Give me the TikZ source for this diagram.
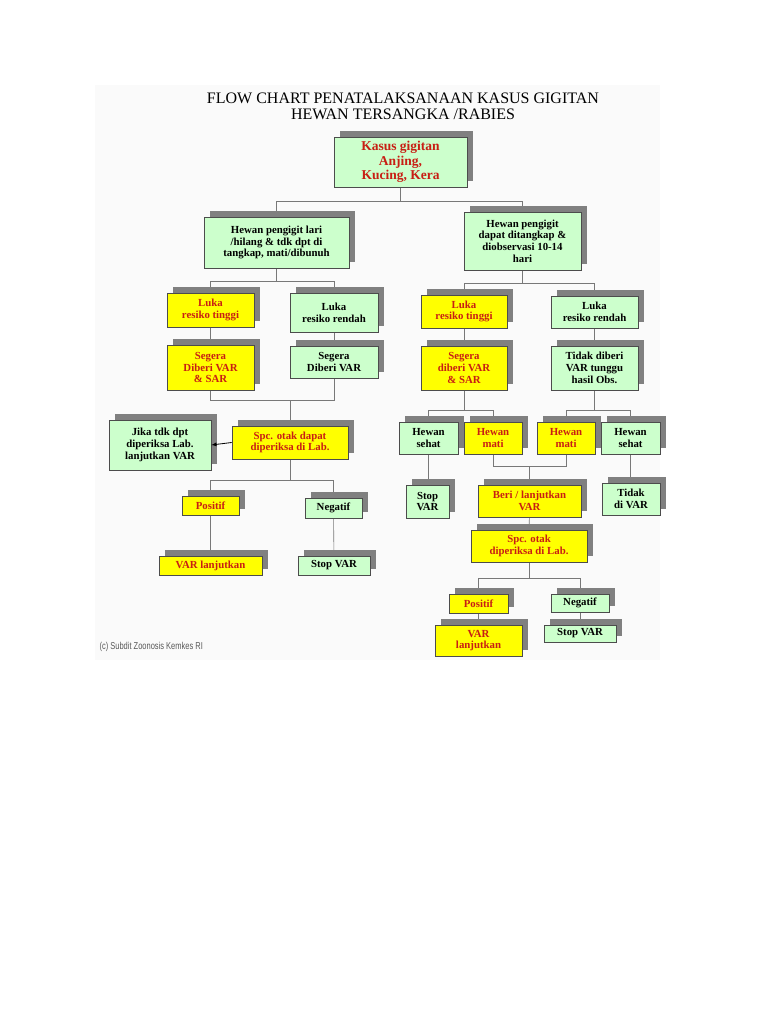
\documentclass[tikz,border=0pt]{standalone}
\usepackage{fontspec}
\setmainfont{Liberation Serif}
\newfontfamily\capfont[FakeStretch=0.75]{Liberation Sans}
\usetikzlibrary{shadows,backgrounds}
\definecolor{bgreen}{RGB}{204,255,204}
\definecolor{byellow}{RGB}{255,255,0}
\definecolor{bred}{RGB}{200,30,20}
\definecolor{lgray}{RGB}{120,120,120}
\tikzset{
 box/.style={draw=black!70, line width=0.6pt, inner sep=1pt, align=center,
   font=\fontsize{10.8}{11.7}\selectfont\bfseries,
   general shadow={fill=black!50, shadow xshift=6pt, shadow yshift=6pt}},
 gbox/.style={box, fill=bgreen},
 ybox/.style={box, fill=byellow, text=bred},
 ln/.style={draw=lgray, line width=0.6pt},
}
\newcommand{\bx}[7]{\node[#1, minimum width=#5pt-#4pt, minimum height=#7pt-#6pt] (#2) at ({(#4+#5)/2},{(#6+#7)/2}) {#3};}
\begin{document}
\begin{tikzpicture}[x=1pt,y=-1pt]
\useasboundingbox (0,0) rectangle (768,1024);
\node[font=\fontsize{16}{16}\selectfont, align=center] (title) at (403,106) {FLOW CHART PENATALAKSANAAN KASUS GIGITAN\\HEWAN TERSANGKA /RABIES};
\bx{gbox,text=bred,font=\fontsize{13.5}{14.5}\selectfont\bfseries}{kasus}{Kasus gigitan\\Anjing,\\Kucing, Kera}{334}{467}{137}{187}
\bx{gbox}{lari}{Hewan pengigit lari\\/hilang \& tdk dpt di\\tangkap, mati/dibunuh}{204}{349}{217}{268}
\bx{gbox}{dapat}{Hewan pengigit\\dapat ditangkap \&\\diobservasi 10-14\\hari}{464}{581}{212}{270}
\bx{ybox}{lt1}{Luka\\resiko tinggi}{167}{254}{293}{327}
\bx{gbox}{lr1}{Luka\\resiko rendah}{290}{378}{293}{332}
\bx{ybox}{sg1}{Segera\\Diberi VAR\\\& SAR}{167}{254}{345}{390}
\bx{gbox}{sd1}{Segera\\Diberi VAR}{290}{378}{346}{378}
\bx{ybox}{lt2}{Luka\\resiko tinggi}{421}{507}{295}{328}
\bx{gbox}{lr2}{Luka\\resiko rendah}{551}{638}{296}{328}
\bx{ybox}{sg2}{Segera\\diberi VAR\\\& SAR}{421}{507}{346}{390}
\bx{gbox}{td}{Tidak diberi\\VAR tunggu\\hasil Obs.}{551}{638}{346}{390}
\bx{gbox}{jika}{Jika tdk dpt\\diperiksa Lab.\\lanjutkan VAR}{109}{211}{420}{470}
\bx{ybox}{spc1}{Spc. otak dapat\\diperiksa di Lab.}{232}{348}{426}{459}
\bx{ybox}{pos1}{Positif}{182}{239}{496}{515}
\bx{gbox}{neg1}{Negatif}{305}{362}{498}{518}
\bx{ybox}{vl1}{VAR lanjutkan}{159}{262}{556}{575}
\bx{gbox}{sv1}{Stop VAR}{298}{370}{556}{575}
\bx{gbox}{hs1}{Hewan\\sehat}{399}{458}{422}{454}
\bx{ybox}{hm1}{Hewan\\mati}{464}{522}{422}{454}
\bx{ybox}{hm2}{Hewan\\mati}{537}{595}{422}{454}
\bx{gbox}{hs2}{Hewan\\sehat}{601}{660}{422}{454}
\bx{gbox}{sv2}{Stop\\VAR}{406}{449}{485}{518}
\bx{ybox}{beri}{Beri / lanjutkan\\VAR}{478}{581}{485}{517}
\bx{gbox}{tdv}{Tidak\\di VAR}{602}{660}{483}{515}
\bx{ybox}{spc2}{Spc. otak\\diperiksa di Lab.}{471}{587}{530}{562}
\bx{ybox}{pos2}{Positif}{449}{508}{594}{613}
\bx{gbox}{neg2}{Negatif}{551}{609}{594}{612}
\bx{ybox}{vl2}{VAR\\lanjutkan}{435}{522}{625}{656}
\bx{gbox}{sv2b}{Stop VAR}{544}{616}{625}{642}
\node[anchor=west, text=black!65, font=\capfont\fontsize{10}{11}\selectfont] (copy) at (96,647) {(c) Subdit Zoonosis Kemkes RI};
\draw[-latex, line width=0.8pt] (spc1.west) -- (jika.east);
\begin{scope}[on background layer]
\fill[black!2] (95,85) rectangle (660,660);
\draw[ln] (kasus.south) -- ++(0,14) -| (lari.north);
\draw[ln] (kasus.south) -- ++(0,14) -| (dapat.north);
\draw[ln] (lari.south) -- ++(0,13) -| (lt1.north);
\draw[ln] (lari.south) -- ++(0,13) -| (lr1.north);
\draw[ln] (lt1) -- (sg1);
\draw[ln] (lr1) -- (sd1);
\draw[ln] (sg1.south) -- ++(0,10) -| (spc1.north);
\draw[ln] (sd1.south) |- ([yshift=-10pt]sg1.south);
\draw[ln] (spc1.south) -- ++(0,21) -| (pos1.north);
\draw[ln] (spc1.south) -- ++(0,21) -| (neg1.north);
\draw[ln] (pos1) -- (vl1);
\draw[ln] (neg1) -- (sv1);
\draw[ln] (dapat.south) -- ++(0,13) -| (lt2.north);
\draw[ln] (dapat.south) -- ++(0,13) -| (lr2.north);
\draw[ln] (lt2) -- (sg2);
\draw[ln] (lr2) -- (td);
\draw[ln] (sg2.south) -- ++(0,20) -| (hs1.north);
\draw[ln] (sg2.south) -- ++(0,20) -| (hm1.north);
\draw[ln] (td.south) -- ++(0,20) -| (hm2.north);
\draw[ln] (td.south) -- ++(0,20) -| (hs2.north);
\draw[ln] (hm1.south) -- ++(0,12) -| (hm2.south);
\draw[ln] ([yshift=-12pt]hm1.south -| beri.north) -- (beri.north);
\draw[ln] (hs1.south) -- (hs1.south |- sv2.north);
\draw[ln] (hs2.south) -- (hs2.south |- tdv.north);
\draw[ln] (beri) -- (spc2);
\draw[ln] (spc2.south) -- ++(0,16) -| (pos2.north);
\draw[ln] (spc2.south) -- ++(0,16) -| (neg2.north);
\draw[ln] (pos2.south) -- (pos2.south |- vl2.north);
\draw[ln] (neg2.south) -- (neg2.south |- sv2b.north);
\end{scope}
\end{tikzpicture}
\end{document}
